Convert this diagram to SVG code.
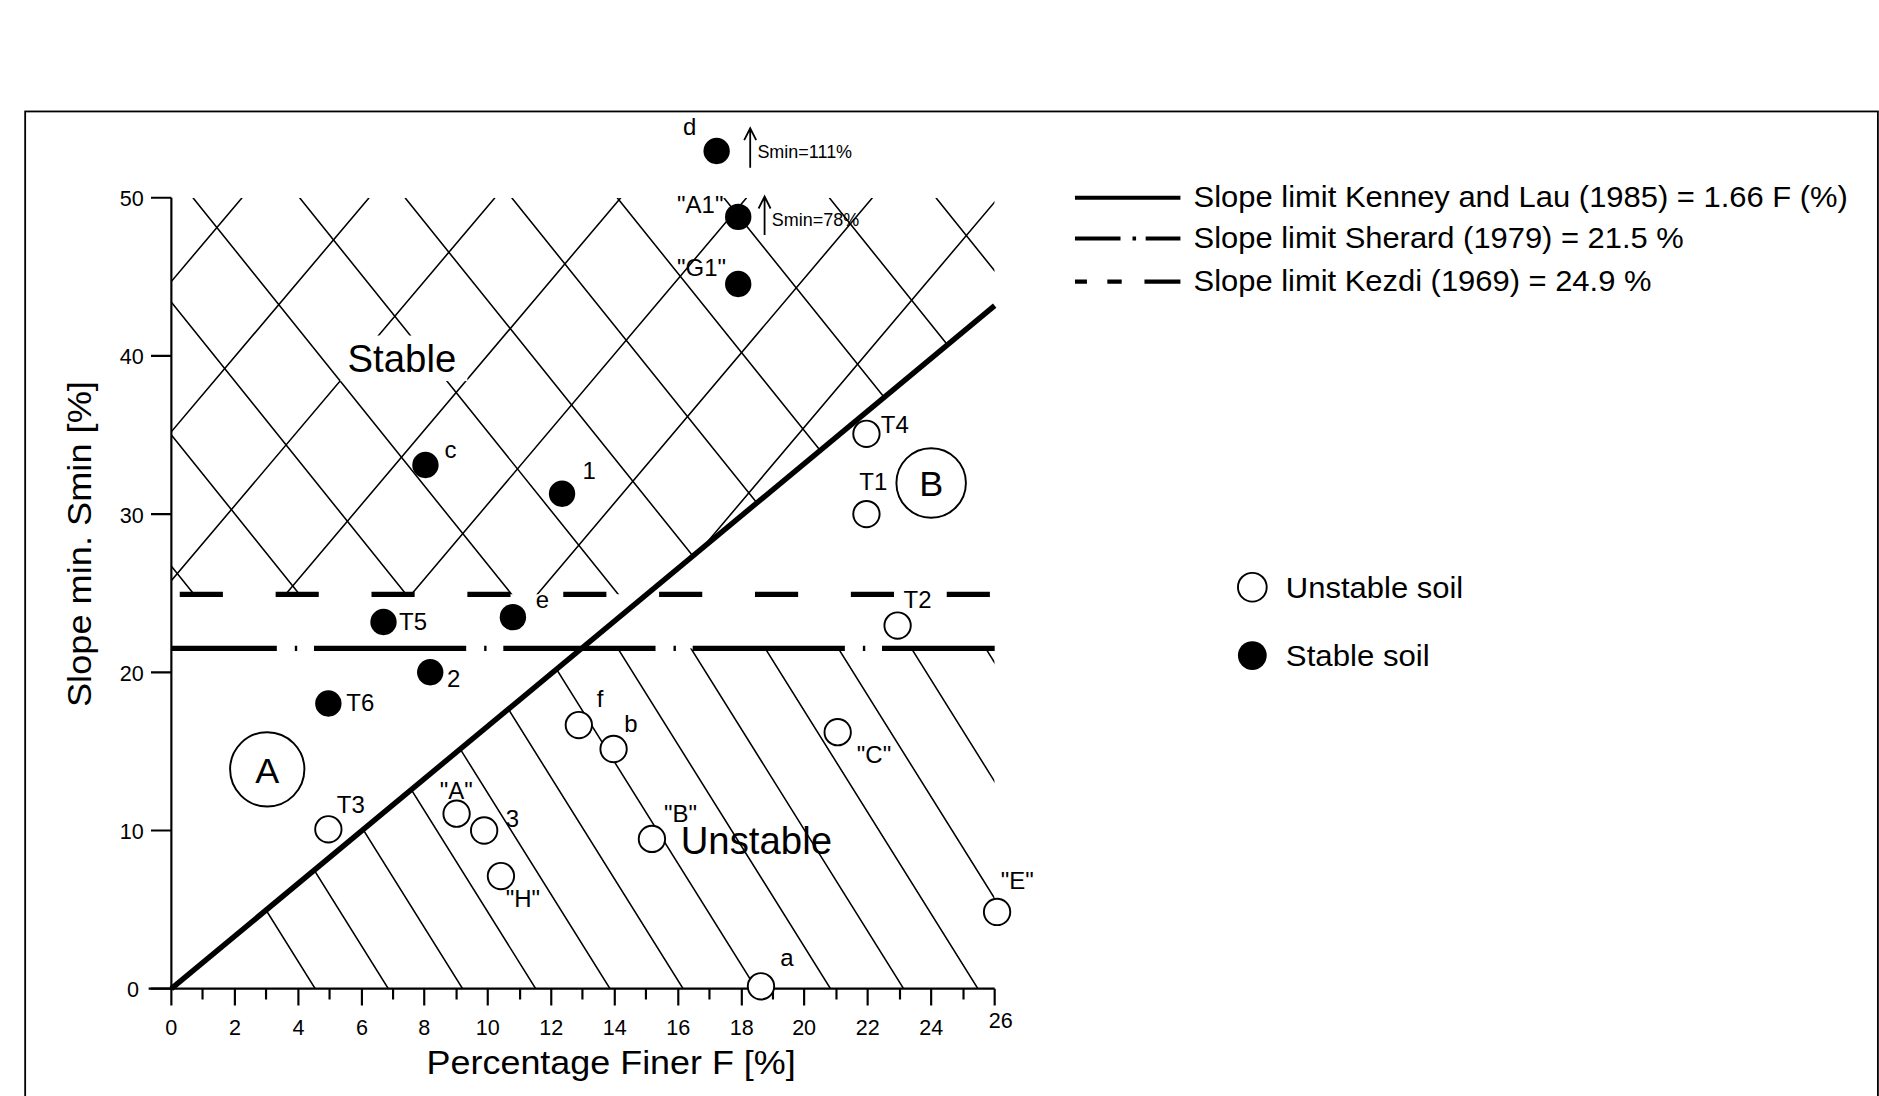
<svg xmlns="http://www.w3.org/2000/svg" width="1879" height="1096" viewBox="0 0 1879 1096">
<style>
text{font-family:"Liberation Sans",Arial,sans-serif;fill:#000}
.h{stroke:#000;stroke-width:1.3;fill:none}
.ax{stroke:#000;stroke-width:1.8;fill:none}
.lim{stroke:#000;stroke-width:4.5;fill:none}
.o{fill:#fff;stroke:#000;stroke-width:1.6}
.f{fill:#000}
.tk{font-size:18px}
.lb{font-size:20px}
.lg{font-size:24px}
</style>
<defs>
<clipPath id="cs"><polygon points="143,165 830,165 830,255 539,496 143,496"/></clipPath>
<clipPath id="cu"><polygon points="143,825 485,541 830,541 830,825"/></clipPath>
</defs>
<rect width="1879" height="1096" fill="#fff"/>
<g transform="scale(1.1984)">
<rect x="21" y="93" width="1546" height="900" fill="none" stroke="#000" stroke-width="1.5"/>
<g id="hatch-stable" clip-path="url(#cs)">
<path class="h" d="M-104,165 l560,697 M-16,165 l560,697 M73,165 l560,697 M161,165 l560,697 M250,165 l560,697 M338,165 l560,697 M427,165 l560,697 M515,165 l560,697 M604,165 l560,697 M692,165 l560,697 M781,165 l560,697"/>
<path class="h" d="M202,165 l-600,710 M308,165 l-600,710 M413,165 l-600,710 M518,165 l-600,710 M623,165 l-600,710 M728,165 l-600,710 M833,165 l-600,710 M938,165 l-600,710 M1043,165 l-600,710"/>
</g>
<rect x="284" y="280" width="106" height="38" fill="#fff"/>
<g id="hatch-unstable" clip-path="url(#cu)">
<path class="h" d="M263,825 l-200,-320 M324,825 l-200,-320 M386,825 l-200,-320 M447,825 l-200,-320 M509,825 l-200,-320 M570,825 l-200,-320 M631,825 l-200,-320 M693,825 l-200,-320 M754,825 l-200,-320 M816,825 l-200,-320 M877,825 l-200,-320 M938,825 l-200,-320 M1000,825 l-200,-320"/>
</g>
<g id="axes">
<path class="ax" d="M143,165 V825 M124,825 H830"/>
<path class="ax" d="M126,165 H143 M126,297 H143 M126,429 H143 M126,561 H143 M126,693 H143 M126,825 H143"/>
<path class="ax" d="M143,825 v14 M169,825 v9 M196,825 v14 M222,825 v9 M249,825 v14 M275,825 v9 M302,825 v14 M328,825 v9 M354,825 v14 M381,825 v9 M407,825 v14 M434,825 v9 M460,825 v14 M486,825 v9 M513,825 v14 M539,825 v9 M566,825 v14 M592,825 v9 M619,825 v14 M645,825 v9 M671,825 v14 M698,825 v9 M724,825 v14 M751,825 v9 M777,825 v14 M804,825 v9 M830,825 v14"/>
<g class="tk" text-anchor="end"><text x="120" y="172">50</text><text x="120" y="304">40</text><text x="120" y="436">30</text><text x="120" y="568">20</text><text x="120" y="700">10</text><text x="116" y="832">0</text></g>
<g class="tk" text-anchor="middle"><text x="143" y="864">0</text><text x="196" y="864">2</text><text x="249" y="864">4</text><text x="302" y="864">6</text><text x="354" y="864">8</text><text x="407" y="864">10</text><text x="460" y="864">12</text><text x="513" y="864">14</text><text x="566" y="864">16</text><text x="619" y="864">18</text><text x="671" y="864">20</text><text x="724" y="864">22</text><text x="777" y="864">24</text><text x="835" y="858">26</text></g>
<text x="356" y="896" textLength="308" lengthAdjust="spacingAndGlyphs" style="font-size:28px">Percentage Finer  F [%]</text>
<text transform="translate(76,590) rotate(-90)" textLength="272" lengthAdjust="spacingAndGlyphs" style="font-size:28px">Slope min.  Smin [%]</text>
</g>
<g id="limits">
<line class="lim" x1="143" y1="825" x2="830" y2="255"/>
<line class="lim" x1="143" y1="541" x2="830" y2="541" stroke-dasharray="127 15 2 14" stroke-dashoffset="39"/>
<line class="lim" x1="150" y1="496" x2="830" y2="496" stroke-dasharray="36 44"/>
</g>
<g id="labels">
<text x="290" y="310" style="font-size:32px">Stable</text>
<text x="568" y="713" style="font-size:32px">Unstable</text>
<circle class="o" cx="223" cy="642" r="31"/><text x="223" y="653" text-anchor="middle" style="font-size:30px">A</text>
<circle class="o" cx="777" cy="403" r="29"/><text x="777" y="414" text-anchor="middle" style="font-size:30px">B</text>
<path d="M626,140 V107 M621,117 L626,107 L631,117" fill="none" stroke="#000" stroke-width="1.5"/>
<text x="632" y="132" style="font-size:15px">Smin=111%</text>
<path d="M638,196 V164 M633,174 L638,164 L643,174" fill="none" stroke="#000" stroke-width="1.5"/>
<text x="644" y="189" style="font-size:15px">Smin=78%</text>
</g>
<g id="stable-points">
<circle class="f" cx="598" cy="126" r="11"/><text class="lb" x="570" y="113">d</text>
<circle class="f" cx="616" cy="181" r="11"/><text class="lb" x="565" y="178">"A1"</text>
<circle class="f" cx="616" cy="237" r="11"/><text class="lb" x="565" y="230">"G1"</text>
<circle class="f" cx="355" cy="388" r="11"/><text class="lb" x="371" y="382">c</text>
<circle class="f" cx="469" cy="412" r="11"/><text class="lb" x="486" y="400">1</text>
<circle class="f" cx="320" cy="519" r="11"/><text class="lb" x="333" y="526">T5</text>
<circle class="f" cx="428" cy="515" r="11"/><text class="lb" x="447" y="507">e</text>
<circle class="f" cx="359" cy="561" r="11"/><text class="lb" x="373" y="573">2</text>
<circle class="f" cx="274" cy="587" r="11"/><text class="lb" x="289" y="593">T6</text>
</g>
<g id="unstable-points">
<circle class="o" cx="723" cy="362" r="11"/><text class="lb" x="735" y="361">T4</text>
<circle class="o" cx="723" cy="429" r="11"/><text class="lb" x="717" y="409">T1</text>
<circle class="o" cx="749" cy="522" r="11"/><text class="lb" x="754" y="507">T2</text>
<circle class="o" cx="483" cy="605" r="11"/><text class="lb" x="498" y="590">f</text>
<circle class="o" cx="512" cy="625" r="11"/><text class="lb" x="521" y="611">b</text>
<circle class="o" cx="699" cy="611" r="11"/><text class="lb" x="715" y="637">"C"</text>
<circle class="o" cx="544" cy="700" r="11"/><text class="lb" x="554" y="686">"B"</text>
<circle class="o" cx="381" cy="679" r="11"/><text class="lb" x="367" y="667">"A"</text>
<circle class="o" cx="404" cy="693" r="11"/><text class="lb" x="422" y="690">3</text>
<circle class="o" cx="418" cy="731" r="11"/><text class="lb" x="422" y="757">"H"</text>
<circle class="o" cx="274" cy="692" r="11"/><text class="lb" x="281" y="678">T3</text>
<circle class="o" cx="832" cy="761" r="11"/><text class="lb" x="835" y="742">"E"</text>
<circle class="o" cx="635" cy="823" r="11"/><text class="lb" x="651" y="806">a</text>
</g>
<g id="legend">
<line x1="897" y1="165" x2="985" y2="165" stroke="#000" stroke-width="3.5"/>
<text class="lg" x="996" y="173" textLength="546" lengthAdjust="spacingAndGlyphs">Slope limit Kenney and Lau (1985) = 1.66 F (%)</text>
<path d="M897,199 H935 M945,199 H948 M956,199 H985" stroke="#000" stroke-width="3.5"/>
<text class="lg" x="996" y="207" textLength="409" lengthAdjust="spacingAndGlyphs">Slope limit Sherard (1979) = 21.5 %</text>
<path d="M897,235 H907 M924,235 H936 M955,235 H985" stroke="#000" stroke-width="3.5"/>
<text class="lg" x="996" y="243" textLength="382" lengthAdjust="spacingAndGlyphs">Slope limit Kezdi (1969) = 24.9 %</text>
<circle class="o" cx="1045" cy="490" r="12"/><text class="lg" x="1073" y="499" textLength="148" lengthAdjust="spacingAndGlyphs">Unstable soil</text>
<circle class="f" cx="1045" cy="547" r="12"/><text class="lg" x="1073" y="556" textLength="120" lengthAdjust="spacingAndGlyphs">Stable soil</text>
</g>
</g>
</svg>
